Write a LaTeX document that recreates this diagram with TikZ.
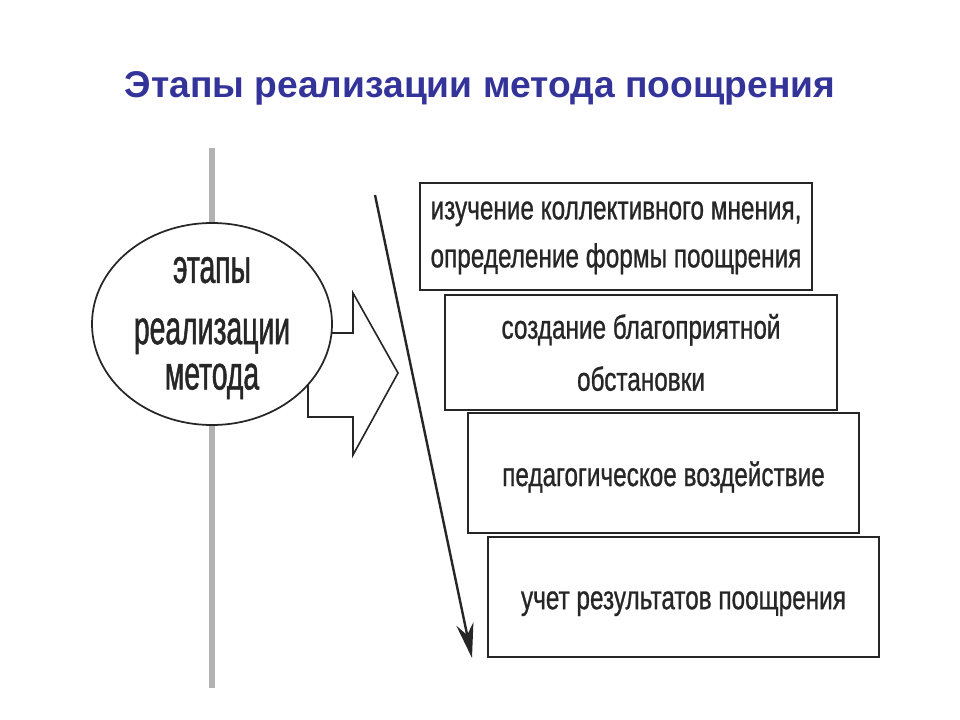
\documentclass[tikz,border=0pt]{standalone}
\usepackage{fontspec}
\setmainfont{Liberation Sans}
\newfontfamily\boxsans[FakeStretch=0.73,FakeBold=0.8]{Liberation Sans}
\newfontfamily\hubsans[FakeStretch=0.59,FakeBold=1.0]{Liberation Sans}
\usetikzlibrary{arrows.meta,shapes.geometric}
\definecolor{titleblue}{HTML}{333399}
\definecolor{ink}{HTML}{262626}
\newcommand{\lowertext}[2]{\raisebox{-#1}[\height][\depth]{#2}}
\tikzset{
  stagebox/.style={draw=ink, line width=1.4pt, fill=white, inner sep=0pt,
    align=center, text=ink, font=\boxsans\fontsize{25}{36}\selectfont},
  hubellipse/.style={ellipse, draw=ink, line width=1.3pt, fill=white, inner sep=0pt,
    minimum width=180pt, minimum height=151.5pt, align=center, text=ink,
    font=\hubsans\fontsize{36}{40}\selectfont},
  blockarrow/.style={draw=ink, line width=1.2pt, fill=white, line join=miter},
  axisline/.style={draw=gray!60, line width=4pt},
  flowarrow/.style={draw=ink, line width=1.8pt, -{Stealth[length=26pt,width=13pt]}}
}
\begin{document}
\begin{tikzpicture}[x=0.75pt,y=-0.75pt]
\useasboundingbox (0,0) rectangle (960,720);
\fill[white] (0,0) rectangle (960,720);

\node[anchor=base, text=titleblue, font=\bfseries\fontsize{27.9}{32}\selectfont] (title) at (480,98) {Этапы реализации метода поощрения};

% vertical axis
\coordinate (axtop) at (212,148);
\coordinate (axbot) at (212,688);
\draw[axisline] (axtop) -- (axbot);

% block arrow
\draw[blockarrow] (308,333) -- (353,333) -- (353,293) -- (398,373) -- (353,455) -- (353,417) -- (308,417) -- cycle;

% ellipse
\node[hubellipse] (hub) at (212,324) {\lowertext{3pt}{этапы}\\[6pt]\lowertext{3pt}{реализации}\\[-6pt]\lowertext{3pt}{метода}};

% boxes
\node[stagebox, minimum width=294pt, minimum height=80pt] (s1) at (616,236.5) {\lowertext{1pt}{изучение коллективного мнения,}\\\lowertext{1pt}{определение формы поощрения}};
\node[stagebox, minimum width=294pt, minimum height=86pt] (s2) at (641,352.5) {создание благоприятной\\[3pt]обстановки};
\node[stagebox, minimum width=293pt, minimum height=90pt] (s3) at (663.5,473) {\lowertext{3pt}{педагогическое воздействие}};
\node[stagebox, minimum width=293pt, minimum height=90pt] (s4) at (683.5,597) {\lowertext{5pt}{учет результатов поощрения}};

% long flow arrow
\coordinate (fstart) at (375,195);
\coordinate (fend) at (472,658);
\draw[flowarrow] (fstart) -- (fend);
\end{tikzpicture}
\end{document}
